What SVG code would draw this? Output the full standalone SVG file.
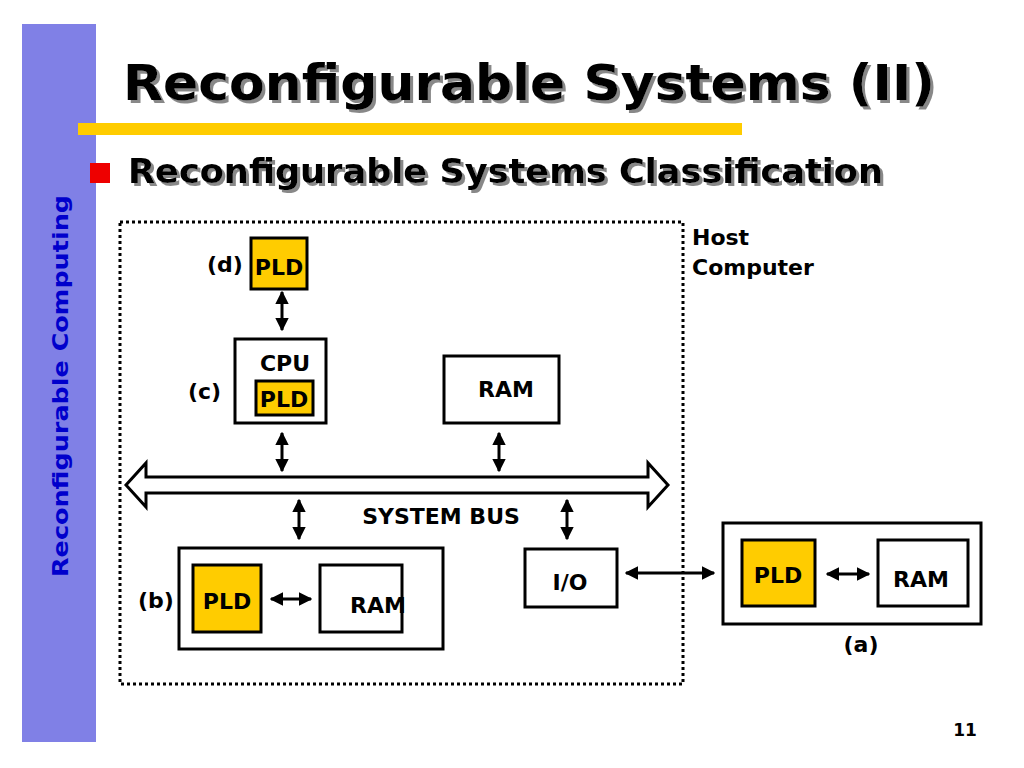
<svg xmlns="http://www.w3.org/2000/svg" width="1024" height="768" viewBox="0 0 1024 768">
<defs>
<style>
text{font-family:"DejaVu Sans",Verdana,sans-serif;font-weight:bold;fill:#000}
.box{fill:#fff;stroke:#000;stroke-width:3}
.pld{fill:#FFCC00;stroke:#000;stroke-width:3}
.lbl{font-size:22px}
.con{stroke:#000;stroke-width:3;fill:none;marker-start:url(#ah);marker-end:url(#ah)}
</style>
<filter id="sh" x="-5%" y="-20%" width="110%" height="140%"><feDropShadow dx="3" dy="3" stdDeviation="0.5" flood-color="#888" flood-opacity="1"/></filter>
<marker id="ah" viewBox="0 0 10 10" refX="9" refY="5" markerWidth="4.5" markerHeight="4.5" orient="auto-start-reverse"><path d="M0,0 L10,5 L0,10 z" fill="#000"/></marker>
</defs>
<rect width="1024" height="768" fill="#fff"/>
<rect x="22" y="24" width="74" height="718" fill="#8080E6"/>
<text transform="translate(68,386) rotate(-90)" text-anchor="middle" font-size="22" style="fill:#0000CC" textLength="382" lengthAdjust="spacingAndGlyphs">Reconfigurable Computing</text>
<text x="123" y="100" font-size="50" filter="url(#sh)" textLength="812" lengthAdjust="spacingAndGlyphs">Reconfigurable Systems (II)</text>
<rect x="78" y="123" width="664" height="12" fill="#FFCC00"/>
<rect x="90" y="163" width="20" height="20" fill="#EE0000"/>
<text x="128" y="183" font-size="33" filter="url(#sh)" textLength="755" lengthAdjust="spacingAndGlyphs">Reconfigurable Systems Classification</text>
<g id="host">
<rect x="120" y="222" width="563" height="462" fill="none" stroke="#000" stroke-width="3" stroke-dasharray="3,3"/>
<text x="692" y="245" class="lbl">Host</text>
<text x="692" y="275" class="lbl">Computer</text>
</g>
<g id="d"><text x="207" y="272" class="lbl">(d)</text><rect class="pld" x="251" y="238" width="56" height="51"/><text x="279" y="275" class="lbl" text-anchor="middle">PLD</text></g>
<g id="c"><text x="188" y="399" class="lbl">(c)</text><rect class="box" x="235" y="339" width="91" height="84"/><text x="285" y="371" class="lbl" text-anchor="middle">CPU</text><rect class="pld" x="256" y="381" width="57" height="34"/><text x="284" y="407" class="lbl" text-anchor="middle" font-size="20">PLD</text></g>
<g id="ram"><rect class="box" x="444" y="356" width="115" height="67"/><text x="506" y="397" class="lbl" text-anchor="middle">RAM</text></g>
<g id="bus"><path d="M126,485 L146,463 L146,477 L648,477 L648,463 L668,485 L648,507 L648,493 L146,493 L146,507 Z" fill="#fff" stroke="#000" stroke-width="3" stroke-linejoin="miter"/><text x="441" y="524" class="lbl" text-anchor="middle">SYSTEM BUS</text></g>
<g id="b"><text x="138" y="608" class="lbl">(b)</text><rect class="box" x="179" y="548" width="264" height="101"/><rect class="pld" x="193" y="565" width="68" height="67"/><text x="227" y="609" class="lbl" text-anchor="middle">PLD</text><rect class="box" x="320" y="565" width="82" height="67"/><text x="378" y="613" class="lbl" text-anchor="middle">RAM</text></g>
<g id="io"><rect class="box" x="525" y="549" width="92" height="58"/><text x="570" y="590" class="lbl" text-anchor="middle">I/O</text></g>
<g id="a"><rect class="box" x="723" y="523" width="258" height="101"/><rect class="pld" x="742" y="540" width="73" height="66"/><text x="778" y="583" class="lbl" text-anchor="middle">PLD</text><rect class="box" x="878" y="540" width="90" height="66"/><text x="921" y="587" class="lbl" text-anchor="middle">RAM</text><text x="861" y="652" class="lbl" text-anchor="middle">(a)</text></g>
<g id="connectors">
<line class="con" x1="282" y1="292" x2="282" y2="330"/>
<line class="con" x1="282" y1="433" x2="282" y2="471"/>
<line class="con" x1="499" y1="433" x2="499" y2="471"/>
<line class="con" x1="299" y1="500" x2="299" y2="539"/>
<line class="con" x1="567" y1="500" x2="567" y2="539"/>
<line class="con" x1="271" y1="599" x2="311" y2="599"/>
<line class="con" x1="626" y1="573" x2="714" y2="573"/>
<line class="con" x1="827" y1="574" x2="869" y2="574"/>
</g>
<text x="965" y="736" font-size="17" text-anchor="middle">11</text>
</svg>
